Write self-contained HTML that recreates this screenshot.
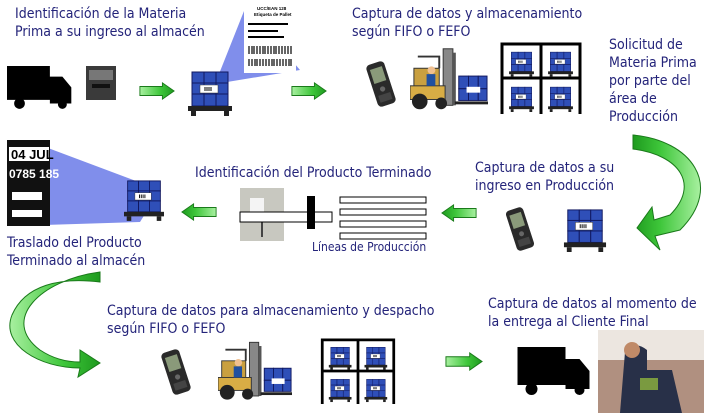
<!DOCTYPE html>
<html><head><meta charset="utf-8"><style>
body{margin:0;width:716px;height:413px;background:#fff;overflow:hidden;position:relative;font-family:"DejaVu Sans Condensed","Liberation Sans",sans-serif;color:#24247a}
.t{position:absolute;font-size:14px;line-height:18px;white-space:nowrap}
svg{position:absolute;left:0;top:0}
</style></head><body>
<svg width="716" height="413" viewBox="0 0 716 413">
<defs>
<linearGradient id="g" x1="0" y1="0" x2="1" y2="0"><stop offset="0" stop-color="#a8f0a0"/><stop offset="0.6" stop-color="#3ec63a"/><stop offset="1" stop-color="#1e9a1e"/></linearGradient>
<linearGradient id="gr" x1="1" y1="0" x2="0" y2="0"><stop offset="0" stop-color="#a8f0a0"/><stop offset="0.6" stop-color="#3ec63a"/><stop offset="1" stop-color="#1e9a1e"/></linearGradient>
<symbol id="arR" viewBox="0 0 40 20"><path d="M1 5H26V1L39 10L26 19V15H1Z" fill="url(#g)" stroke="#1a7a1a" stroke-width="1"/></symbol>
<symbol id="arL" viewBox="0 0 40 20"><path d="M39 5H14V1L1 10L14 19V15H39Z" fill="url(#gr)" stroke="#1a7a1a" stroke-width="1"/></symbol>
<symbol id="pal" viewBox="0 0 44 46">
<g fill="#2f4fb8" stroke="#101860" stroke-width="1">
<rect x="4" y="2" width="12" height="11"/><rect x="16" y="2" width="12" height="11"/><rect x="28" y="2" width="12" height="11"/>
<rect x="4" y="13" width="12" height="11"/><rect x="16" y="13" width="12" height="11"/><rect x="28" y="13" width="12" height="11"/>
<rect x="4" y="24" width="12" height="12"/><rect x="16" y="24" width="12" height="12"/><rect x="28" y="24" width="12" height="12"/></g>
<rect x="12" y="15" width="18" height="8" fill="#fff" stroke="#333" stroke-width=".5"/><path d="M17 17v4M19 17v4M21 17v4M23 17v4" stroke="#000"/>
<rect x="0" y="36" width="44" height="5" fill="#222"/><rect x="3" y="41" width="5" height="5" fill="#222"/><rect x="36" y="41" width="5" height="5" fill="#222"/></symbol>
<symbol id="hh" viewBox="0 0 30 46"><g transform="rotate(-18 15 23)"><rect x="6" y="2" width="18" height="42" rx="4" fill="#2a2a2a"/><rect x="9" y="7" width="12" height="14" fill="#8a9a7a"/><circle cx="15" cy="28" r="2.5" fill="#666"/><rect x="9" y="33" width="12" height="7" fill="#444"/></g></symbol>
<symbol id="fk" viewBox="0 0 80 66">
<rect x="34" y="2" width="10" height="58" fill="#888" stroke="#333"/><rect x="44" y="6" width="3" height="54" fill="#555"/>
<path d="M4 22H30V48H4Z" fill="#c9a040" stroke="#333"/><path d="M8 10H30V22" fill="none" stroke="#333" stroke-width="2"/>
<rect x="0" y="40" width="36" height="14" fill="#d8ad45" stroke="#333"/>
<circle cx="10" cy="56" r="8" fill="#222"/><circle cx="32" cy="58" r="6" fill="#222"/>
<circle cx="22" cy="24" r="4" fill="#f0c090"/><path d="M17 28h9v12h-9z" fill="#2050a0"/>
<rect x="46" y="56" width="34" height="3" fill="#222"/>
<g fill="#2f4fb8" stroke="#101860"><rect x="50" y="30" width="10" height="13"/><rect x="60" y="30" width="10" height="13"/><rect x="70" y="30" width="9" height="13"/><rect x="50" y="43" width="10" height="12"/><rect x="60" y="43" width="10" height="12"/><rect x="70" y="43" width="9" height="12"/></g>
<rect x="58" y="41" width="14" height="6" fill="#fff"/></symbol>
<symbol id="rack" viewBox="0 0 82 72">
<g fill="none" stroke="#000" stroke-width="3"><path d="M2 72V2H80V72M41 2V72M2 36H80"/></g>
<use href="#pal" x="9" y="9" width="25" height="26"/><use href="#pal" x="48" y="9" width="25" height="26"/>
<use href="#pal" x="9" y="44" width="25" height="26"/><use href="#pal" x="48" y="44" width="25" height="26"/></symbol>
<symbol id="truck" viewBox="0 0 75 50"><path d="M0 2H48V40H0Z M48 14H62L72 26V44H48Z" fill="#000"/><circle cx="14" cy="44" r="6" fill="#000"/><circle cx="62" cy="45" r="5" fill="#000"/></symbol>
</defs>

<use href="#truck" x="7" y="64" width="67" height="45"/>
<g><rect x="86" y="66" width="30" height="34" fill="#3a3a3a"/><rect x="89" y="70" width="24" height="10" fill="#777"/><rect x="92" y="84" width="18" height="4" fill="#111"/></g>
<use href="#arR" x="138" y="82" width="38" height="18"/>
<path d="M215 84L246 6L300 70Z" fill="#6a7ae8" opacity=".85"/>
<rect x="244" y="3" width="52" height="70" fill="#fff"/>
<g font-family="Liberation Sans" font-size="4.5" fill="#000" font-weight="bold"><text x="257" y="10">UCC/EAN 128</text><text x="254" y="16">Etiqueta de Pallet</text></g>
<g fill="#000"><rect x="248" y="23" width="40" height="2"/><rect x="248" y="30" width="30" height="2"/><rect x="248" y="36" width="36" height="2"/></g>
<g stroke="#000" stroke-width="1.2"><path d="M249 46v8M252 46v8M254 46v8M257 46v8M260 46v8M263 46v8M265 46v8M268 46v8M271 46v8M274 46v8M276 46v8M279 46v8M282 46v8M285 46v8M288 46v8M291 46v8"/><path d="M249 59v7M252 59v7M255 59v7M257 59v7M260 59v7M263 59v7M266 59v7M269 59v7M272 59v7M274 59v7M277 59v7M280 59v7M283 59v7M286 59v7M289 59v7M291 59v7"/></g>
<use href="#pal" x="188" y="70" width="44" height="46"/>
<use href="#arR" x="290" y="82" width="38" height="18"/>
<use href="#hh" x="365" y="60" width="32" height="48"/>
<use href="#fk" x="410" y="46" width="78" height="66"/>
<use href="#rack" x="500" y="42" width="82" height="72"/>

<path d="M633 135 C690 140 725 185 680 230 L655 236 L660 250 L637 228 L652 207 L654 220 L670 215 C700 185 680 155 633 149Z" fill="url(#gr)" stroke="#1a7a1a"/>

<path d="M40 145L160 190L140 222L44 225Z" fill="#6a7ae8" opacity=".85"/>
<rect x="7" y="140" width="43" height="86" fill="#111"/>
<g font-family="Liberation Sans" fill="#fff" font-weight="bold"><rect x="9" y="147" width="40" height="14" fill="#fff"/><text x="11" y="159" font-size="13" fill="#000">04 JUL</text><text x="9" y="178" font-size="12">0785 185</text><rect x="12" y="192" width="30" height="8"/><rect x="12" y="210" width="30" height="7"/></g>
<use href="#pal" x="124" y="178" width="40" height="44"/>
<use href="#arL" x="178" y="203" width="42" height="18"/>
<rect x="240" y="188" width="44" height="53" fill="#c8c8c0"/><path d="M250 198h14v20h-14z" fill="#f4f4f4"/><path d="M262 215v22" stroke="#444" stroke-width="2"/>
<rect x="240" y="212" width="92" height="10" fill="#fff" stroke="#000"/>
<rect x="307" y="196" width="8" height="33" fill="#000"/>
<g stroke="#000" fill="none"><rect x="340" y="197" width="86" height="6"/><rect x="340" y="209" width="86" height="6"/><rect x="340" y="221" width="86" height="6"/><rect x="340" y="233" width="86" height="6"/></g>
<use href="#arL" x="440" y="204" width="38" height="18"/>
<use href="#hh" x="505" y="205" width="30" height="48"/>
<use href="#pal" x="563" y="208" width="44" height="44"/>

<path d="M100 272 C40 280 0 320 40 350 C55 360 70 362 80 362 L80 350 L100 363 L78 377 L80 368 C40 368 0 345 12 315 C25 285 60 277 100 282Z" fill="url(#g)" stroke="#1a7a1a"/>

<use href="#hh" x="160" y="348" width="32" height="48"/>
<use href="#fk" x="218" y="339" width="74" height="64"/>
<use href="#rack" x="315" y="338" width="86" height="66"/>
<use href="#arR" x="445" y="352" width="38" height="19"/>
<use href="#truck" x="517" y="345" width="76" height="50"/>
<rect x="598" y="330" width="106" height="83" fill="#b09080"/><rect x="598" y="330" width="106" height="30" fill="#ece6e0"/><path d="M625 352q10-12 22-2v20h25l10 43h-62z" fill="#283048"/><circle cx="632" cy="350" r="8" fill="#c08a68"/><rect x="640" y="378" width="18" height="12" fill="#7a9a40"/>
</svg>
<div class="t" style="left:15px;top:5px">Identificación de la Materia<br>Prima a su ingreso al almacén</div>
<div class="t" style="left:352px;top:5px">Captura de datos y almacenamiento<br>según FIFO o FEFO</div>
<div class="t" style="left:609px;top:36px">Solicitud de<br>Materia Prima<br>por parte del<br>área de<br>Producción</div>
<div class="t" style="left:195px;top:164px">Identificación del Producto Terminado</div>
<div class="t" style="left:475px;top:159px">Captura de datos a su<br>ingreso en Producción</div>
<div class="t" style="left:312px;top:238px;font-size:12px">Líneas de Producción</div>
<div class="t" style="left:7px;top:234px">Traslado del Producto<br>Terminado al almacén</div>
<div class="t" style="left:107px;top:302px">Captura de datos para almacenamiento y despacho<br>según FIFO o FEFO</div>
<div class="t" style="left:488px;top:295px">Captura de datos al momento de<br>la entrega al Cliente Final</div>
</body></html>
